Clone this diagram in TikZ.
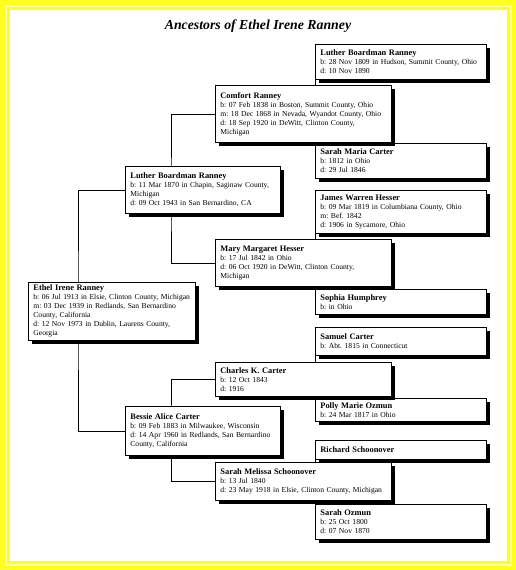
\documentclass[tikz,border=0pt]{standalone}
\usepackage{fontspec}
\setmainfont{Liberation Serif}
\usetikzlibrary{shadows}
\definecolor{frameyellow}{RGB}{255,255,30}
\definecolor{palestripe}{RGB}{255,255,175}
\pgfdeclarelayer{framelayer}
\pgfdeclarelayer{linklayer}
\pgfsetlayers{framelayer,linklayer,main}
\frenchspacing
\hyphenpenalty=10000
\exhyphenpenalty=10000
\newcommand{\nm}[1]{{\fontsize{8.4}{9}\selectfont\bfseries #1}}
\tikzset{
  person/.style={draw=black, line width=0.8pt, fill=white, anchor=north west,
    align=left, inner xsep=5pt, inner ysep=2pt,
    font=\fontsize{7.6}{9}\selectfont\frenchspacing,
    drop shadow={shadow xshift=4pt, shadow yshift=-4pt, fill=black, opacity=1}},
  gone/.style={person, text width=157pt, minimum width=167pt},
  gtwo/.style={person, text width=145pt, minimum width=155pt},
  gthree/.style={person, text width=166pt, minimum width=176pt},
  gfour/.style={person, text width=161pt, minimum width=171pt},
  link/.style={draw=black, line width=0.8pt},
  titlestyle/.style={font=\fontsize{13.8}{16}\selectfont\bfseries\itshape, inner sep=0pt}
}
\begin{document}
\begin{tikzpicture}[x=1pt, y=-1pt]
\useasboundingbox (0,0) rectangle (516,570);
\begin{pgfonlayer}{framelayer}
\fill[frameyellow] (0,0) rectangle (516,570);
\fill[palestripe] (4.5,4.5) rectangle (511.5,565.5);
\fill[frameyellow] (6.5,6.5) rectangle (509.5,563.5);
\fill[white] (9.5,9.5) rectangle (506.5,560.5);
\end{pgfonlayer}

\node[titlestyle] (title) at (258,26) {Ancestors of Ethel Irene Ranney};

% generation 4
\node[gfour, minimum height=35pt] (lbs) at (315,44) {\nm{Luther Boardman Ranney}\\b: 28 Nov 1809 in Hudson, Summit County, Ohio\\d: 10 Nov 1890};
\node[gfour, minimum height=35pt] (smc) at (315,143) {\nm{Sarah Maria Carter}\\b: 1812 in Ohio\\d: 29 Jul 1846};
\node[gfour, minimum height=43pt] (jwh) at (315,190) {\nm{James Warren Hesser}\\b: 09 Mar 1819 in Columbiana County, Ohio\\m: Bef. 1842\\d: 1906 in Sycamore, Ohio};
\node[gfour, minimum height=25pt] (sh) at (315,289) {\nm{Sophia Humphrey}\\b: in Ohio};
\node[gfour, minimum height=28pt] (sc) at (315,327) {\nm{Samuel Carter}\\b: Abt. 1815 in Connecticut};
\node[gfour, minimum height=23pt] (pmo) at (315,398) {\nm{Polly Marie Ozmun}\\b: 24 Mar 1817 in Ohio};
\node[gfour, minimum height=19pt] (rs) at (315,440) {\nm{Richard Schoonover}};
\node[gfour, minimum height=35pt] (so) at (315,504) {\nm{Sarah Ozmun}\\b: 25 Oct 1800\\d: 07 Nov 1870};

% generation 3
\node[gthree, minimum height=57pt] (cr) at (215,85) {\nm{Comfort Ranney}\\b: 07 Feb 1838 in Boston, Summit County, Ohio\\m: 18 Dec 1868 in Nevada, Wyandot County, Ohio\\d: 18 Sep 1920 in DeWitt, Clinton County,\\Michigan};
\node[gthree, minimum height=47pt] (mmh) at (215,239) {\nm{Mary Margaret Hesser}\\b: 17 Jul 1842 in Ohio\\d: 06 Oct 1920 in DeWitt, Clinton County,\\Michigan};
\node[gthree, minimum height=34pt] (ckc) at (215,362) {\nm{Charles K. Carter}\\b: 12 Oct 1843\\d: 1916};
\node[gthree, minimum height=38pt] (sms) at (215,462) {\nm{Sarah Melissa Schoonover}\\b: 13 Jul 1840\\d: 23 May 1918 in Elsie, Clinton County, Michigan};

% generation 2
\node[gtwo, minimum height=47pt] (lbj) at (125,166) {\nm{Luther Boardman Ranney}\\b: 11 Mar 1870 in Chapin, Saginaw County,\\Michigan\\d: 09 Oct 1943 in San Bernardino, CA};
\node[gtwo, minimum height=49pt] (bac) at (125,406) {\nm{Bessie Alice Carter}\\b: 09 Feb 1883 in Milwaukee, Wisconsin\\d: 14 Apr 1960 in Redlands, San Bernardino\\County, California};

% generation 1
\node[gone, minimum height=58pt] (eir) at (28,282) {\nm{Ethel Irene Ranney}\\b: 06 Jul 1913 in Elsie, Clinton County, Michigan\\m: 03 Dec 1939 in Redlands, San Bernardino\\County, California\\d: 12 Nov 1973 in Dublin, Laurens County,\\Georgia};

\coordinate (busone) at (78,310);
\coordinate (bustwoa) at (171,200);
\coordinate (bustwob) at (171,430);
\begin{pgfonlayer}{linklayer}
\draw[link] (lbj.west) -| (busone) |- (bac.west);
\draw[link] (cr.west) -| (bustwoa) |- (mmh.west);
\draw[link] (ckc.west) -| (bustwob) |- (sms.west);
\draw[link] (lbs.west) -- (smc.west);
\draw[link] (jwh.west) -- (sh.west);
\draw[link] (sc.west) -- (pmo.west);
\draw[link] (rs.west) -- (so.west);
\end{pgfonlayer}
\end{tikzpicture}
\end{document}
